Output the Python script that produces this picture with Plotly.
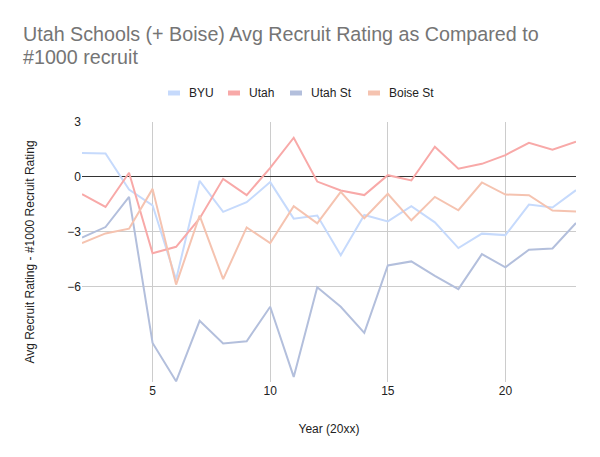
import plotly.graph_objects as go

years = list(range(2, 24))
byu = [1.30, 1.28, -0.70, -1.56, -5.62, -0.22, -1.92, -1.39, -0.29, -2.29, -2.12, -4.29, -2.09, -2.44,
       -1.61, -2.49, -3.90, -3.11, -3.19, -1.52, -1.68, -0.73]
utah = [-0.95, -1.65, 0.22, -4.18, -3.83, -2.28, -0.11, -1.00, 0.49, 2.14, -0.26, -0.75, -1.00, 0.09,
        -0.20, 1.65, 0.44, 0.71, 1.19, 1.86, 1.48, 1.92]
utah_st = [-3.32, -2.75, -1.10, -9.09, -11.19, -7.88, -9.12, -9.00, -7.11, -10.95, -6.05, -7.11, -8.54,
           -4.85, -4.63, -5.42, -6.15, -4.23, -4.95, -3.99, -3.92, -2.53]
boise = [-3.63, -3.10, -2.84, -0.66, -5.90, -2.12, -5.60, -2.77, -3.63, -1.61, -2.55, -0.82, -2.27, -0.93,
         -2.38, -1.10, -1.83, -0.31, -0.97, -1.01, -1.85, -1.90]

names = ["BYU", "Utah", "Utah St", "Boise St"]
colors = ["#c6dafc", "#f8a9a8", "#b3bfdc", "#f5c3b0"]
values = [byu, utah, utah_st, boise]
title_lines = ["Utah Schools (+ Boise) Avg Recruit Rating as Compared to", "#1000 recruit"]

# plot-area geometry in pixels (for converting layout positions)
L, R, T, B = 82, 576, 122, 382
def px_x(p):
    return (p - L) / (R - L)
def px_y(p):
    return (B - p) / (B - T)

fig = go.Figure()
for name, vals, col in zip(names, values, colors):
    fig.add_trace(go.Scatter(x=years, y=vals, name=name, mode="lines",
                             line=dict(color=col, width=2), showlegend=False))

# legend drawn as layout shapes + annotations
legend_sym_x = [168, 228, 290, 368]
legend_y = 93
shapes = []
annotations = []
for name, col, sx in zip(names, colors, legend_sym_x):
    shapes.append(dict(type="rect", xref="paper", yref="paper",
                       x0=px_x(sx), x1=px_x(sx + 12), y0=px_y(legend_y + 2.5), y1=px_y(legend_y - 2.5),
                       fillcolor=col, line=dict(width=0)))
    annotations.append(dict(text=name, xref="paper", yref="paper", x=px_x(sx + 19), y=px_y(legend_y),
                            xanchor="left", yanchor="middle", showarrow=False,
                            font=dict(size=12, color="#222222")))

for i, line in enumerate(title_lines):
    annotations.append(dict(text=line, xref="paper", yref="paper", x=px_x(21), y=px_y(34 + 23 * i),
                            xanchor="left", yanchor="middle", showarrow=False,
                            font=dict(size=19.7, color="#757575")))

fig.update_layout(
    width=600, height=457,
    margin=dict(l=L, r=600 - R, t=T, b=457 - B),
    paper_bgcolor="white", plot_bgcolor="white",
    font=dict(family="Arial, Liberation Sans, sans-serif", color="#222222", size=12),
    shapes=shapes, annotations=annotations,
    showlegend=False,
)
fig.update_xaxes(range=[2, 23], tickvals=[5, 10, 15, 20], showgrid=True, gridcolor="#cccccc",
                 zeroline=False, showline=False, ticks="", tickfont=dict(size=12, color="#222222"),
                 title=dict(text="Year (20xx)", font=dict(size=12, color="#222222"), standoff=27))
fig.update_yaxes(range=[-11.23, 3], tickvals=[3, 0, -3, -6], showgrid=True, gridcolor="#cccccc",
                 zeroline=True, zerolinecolor="#333333", zerolinewidth=1, showline=False, ticks="",
                 tickfont=dict(size=12, color="#222222"),
                 title=dict(text="Avg Recruit Rating - #1000 Recruit Rating",
                            font=dict(size=12, color="#222222"), standoff=30))

fig.write_html("out.html")
